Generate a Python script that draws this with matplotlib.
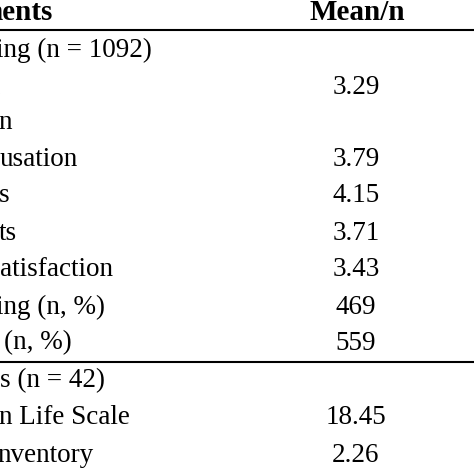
import matplotlib.pyplot as plt

# cropped table content
header_left = "ments"
header_right = "Mean/n"
row_labels = ["ing (n = 1092)", "l", "n", "usation", "s", "ts", "atisfaction",
              "ing (n, %)", "(n, %)", "s (n = 42)", "n Life Scale", "nventory"]
row_values = ["", "3.29", "", "3.79", "4.15", "3.71", "3.43", "469", "559", "", "18.45", "2.26"]
row_y = [50, 87, 122, 159, 195, 233, 270, 307, 343, 381, 418, 455]
label_x = [-4, -8, -2, 0, -1, -1, 0, -4, 4, 0, -1, -3]

plt.rcParams['font.family'] = ['Liberation Serif', 'DejaVu Serif']

fig = plt.figure(figsize=(4.74, 4.74), dpi=100, facecolor='w')
ax = fig.add_axes([0, 0, 1, 1])
ax.set_xlim(0, 474)
ax.set_ylim(474, 0)
ax.axis('off')

ax.text(-22, 12, header_left, fontsize=21, fontweight='bold', va='center', ha='left')
ax.text(357, 12, header_right, fontsize=21, fontweight='bold', va='center', ha='center')
ax.plot([0, 474], [30, 30], color='black', lw=1.5)
ax.plot([0, 474], [362, 362], color='black', lw=1.5)

for lab, val, y, x in zip(row_labels, row_values, row_y, label_x):
    ax.text(x, y, lab, fontsize=19.5, va='center', ha='left')
    if val:
        ax.text(356, y, val, fontsize=19.5, va='center', ha='center')

fig.savefig('out.png', dpi=100)
